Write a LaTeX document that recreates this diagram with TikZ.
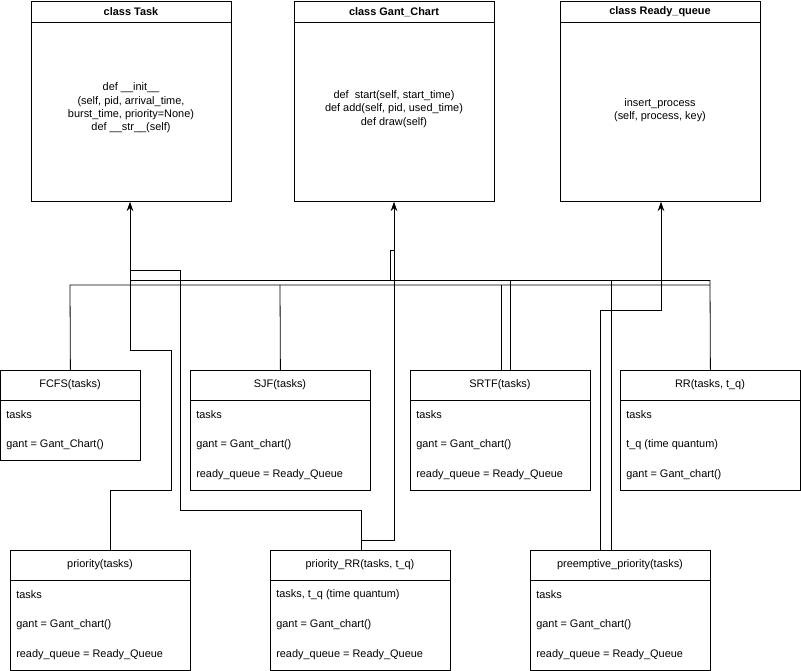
\documentclass[tikz,border=0pt]{standalone}
\usepackage{fontspec}
\setmainfont{Liberation Sans}
\usetikzlibrary{arrows.meta}
\begin{document}
\begin{tikzpicture}[x=0.75pt,y=-0.75pt,font=\fontsize{8.2}{10}\selectfont,
  box/.style={draw,line width=0.6pt},
  ln/.style={line width=0.6pt},
  arr/.style={ln,-{Stealth[length=7pt,width=5pt]}},
  lt/.style={anchor=west,inner sep=0pt}]
\useasboundingbox (0,0) rectangle (801,671);
% class boxes
\node[box,minimum width=150pt,minimum height=150pt,anchor=north west] (task) at (31,1) {};
\draw[ln] (31,22) -- (231,22);
\node[font=\fontsize{8.2}{10}\selectfont\bfseries] at (131,12) {class Task};
\node[align=center] (taskt) at (131,108) {def \_\_init\_\_\\(self, pid, arrival\_time,\\burst\_time, priority=None)\\def \_\_str\_\_(self)};
\node[box,minimum width=150pt,minimum height=150pt,anchor=north west] (gant) at (294,1) {};
\draw[ln] (294,22) -- (494,22);
\node[font=\fontsize{8.2}{10}\selectfont\bfseries] at (394,12) {class Gant\_Chart};
\node[align=center] (gantt) at (394,109) {def\ \ start(self, start\_time)\\def add(self, pid, used\_time)\\def draw(self)};
\node[box,minimum width=150pt,minimum height=150pt,anchor=north west] (ready) at (560,1) {};
\draw[ln] (560,22) -- (760,22);
\node[font=\fontsize{8.2}{10}\selectfont\bfseries] at (660,12) {class Ready\_queue};
\node[align=center] (readyt) at (660,110) {insert\_process\\(self, process, key)};
% row 2
\node[box,minimum width=105pt,minimum height=67.5pt,anchor=north west] (fcfs) at (0,370) {};
\draw[ln] (0,400) -- (140,400);
\node at (70,385) {FCFS(tasks)};
\node[lt] at (6,415) {tasks};
\node[lt] at (6,445) {gant = Gant\_Chart()};
\node[box,minimum width=135pt,minimum height=90pt,anchor=north west] (sjf) at (190,370) {};
\draw[ln] (190,400) -- (370,400);
\node at (280,385) {SJF(tasks)};
\node[lt] at (196,415) {tasks};
\node[lt] at (196,445) {gant = Gant\_chart()};
\node[lt] at (196,475) {ready\_queue = Ready\_Queue};
\node[box,minimum width=135pt,minimum height=90pt,anchor=north west] (srtf) at (410,370) {};
\draw[ln] (410,400) -- (590,400);
\node at (500,385) {SRTF(tasks)};
\node[lt] at (416,415) {tasks};
\node[lt] at (416,445) {gant = Gant\_chart()};
\node[lt] at (416,475) {ready\_queue = Ready\_Queue};
\node[box,minimum width=135pt,minimum height=90pt,anchor=north west] (rr) at (620,370) {};
\draw[ln] (620,400) -- (800,400);
\node at (710,385) {RR(tasks, t\_q)};
\node[lt] at (626,415) {tasks};
\node[lt] at (626,445) {t\_q (time quantum)};
\node[lt] at (626,475) {gant = Gant\_chart()};
% row 3
\node[box,minimum width=135pt,minimum height=90pt,anchor=north west] (prio) at (10,550) {};
\draw[ln] (10,580) -- (190,580);
\node at (100,565) {priority(tasks)};
\node[lt] at (16,595) {tasks};
\node[lt] at (16,625) {gant = Gant\_chart()};
\node[lt] at (16,655) {ready\_queue = Ready\_Queue};
\node[box,minimum width=135pt,minimum height=90pt,anchor=north west] (prr) at (270,550) {};
\draw[ln] (270,580) -- (450,580);
\node at (360,565) {priority\_RR(tasks, t\_q)};
\node[lt] at (276,595) {tasks, t\_q (time quantum)};
\node[lt] at (276,625) {gant = Gant\_chart()};
\node[lt] at (276,655) {ready\_queue = Ready\_Queue};
\node[box,minimum width=135pt,minimum height=90pt,anchor=north west] (pp) at (530,550) {};
\draw[ln] (530,580) -- (710,580);
\node at (620,565) {preemptive\_priority(tasks)};
\node[lt] at (536,595) {tasks};
\node[lt] at (536,625) {gant = Gant\_chart()};
\node[lt] at (536,655) {ready\_queue = Ready\_Queue};
% connectors
\draw[arr] (prio.north -| 110,0) -- (110,490) -- (171,490) -- (171,350) -- (130,350) -- (task.south -| 130,0);
\draw[ln] (361,550) -- (361,510) -- (180,510) -- (180,270) -- (130,270);
\draw[arr] (361,540) -- (394,540) -- (gant.south -| 394,0);
\draw[ln] (130,280) -- (710,280);
\draw[ln] (390,280) -- (390,250) -- (394,250);
\draw[ln] (fcfs.north) -- (70,285) -- (710,285);
\draw[ln] (sjf.north) -- (280,285);
\draw[ln] (501,370) -- (501,285);
\draw[ln] (510,370) -- (510,280);
\draw[ln] (rr.north) -- (710,280);
\draw[ln] (611,550) -- (611,280);
\draw[arr] (600,550) -- (600,310) -- (661,310) -- (ready.south -| 661,0);
\end{tikzpicture}
\end{document}
